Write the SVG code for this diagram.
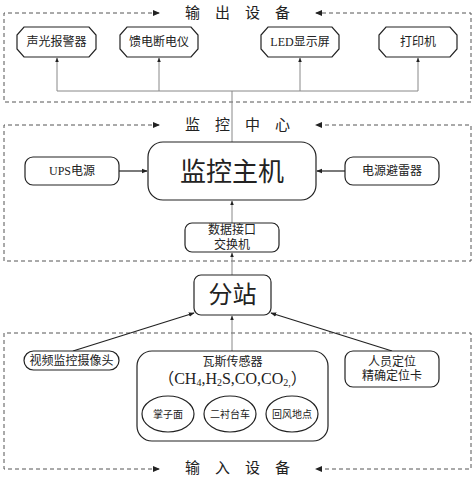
<svg xmlns="http://www.w3.org/2000/svg" width="474" height="479" viewBox="0 0 474 479">
<style>
text{font-family:"Liberation Serif","Noto Sans CJK SC",serif;fill:#222;text-anchor:middle;dominant-baseline:central}
.box{fill:#fff;stroke:#222;stroke-width:1.2}
.dash{fill:none;stroke:#555;stroke-width:1;stroke-dasharray:4 3}
.ttl{font-size:15px}
.s{font-size:12px}
.xs{font-size:10px}
.gl{stroke:#888;stroke-width:1;fill:none}
.bl{stroke:#222;stroke-width:1.2;fill:none}
</style>
<defs>
<marker id="ah" viewBox="0 0 8 8" refX="7" refY="4" markerWidth="6" markerHeight="6" orient="auto" markerUnits="userSpaceOnUse">
<path d="M0,1 L8,4 L0,7 z" fill="#222"/>
</marker>
<marker id="ahs" viewBox="0 0 8 8" refX="7" refY="4" markerWidth="5" markerHeight="5" orient="auto" markerUnits="userSpaceOnUse">
<path d="M0,1 L8,4 L0,7 z" fill="#222"/>
</marker>
</defs>
<rect width="474" height="479" fill="#fff"/>

<g id="frames">
<path class="dash" d="M159,13 L4,13 L4,102 L471,102 L471,13 L316,13"/>
<path class="dash" d="M159,125 L4,125 L4,261 L471,261 L471,125 L316,125"/>
<path class="dash" d="M159,469 L4,469 L4,333 L471,333 L471,469 L316,469"/>
<path d="M153,10 L160,13 L153,16 z M322,10 L315,13 L322,16 z" fill="#222"/>
<path d="M153,122 L160,125 L153,128 z M322,122 L315,125 L322,128 z" fill="#222"/>
<path d="M153,466 L160,469 L153,472 z M322,466 L315,469 L322,472 z" fill="#222"/>
<g class="ttl">
<text x="192.5" y="13">输</text><text x="222.5" y="13">出</text><text x="252.5" y="13">设</text><text x="282.5" y="13">备</text>
<text x="192.5" y="125">监</text><text x="222.5" y="125">控</text><text x="252.5" y="125">中</text><text x="282.5" y="125">心</text>
<text x="192.5" y="468">输</text><text x="222.5" y="468">入</text><text x="252.5" y="468">设</text><text x="282.5" y="468">备</text>
</g>
</g>

<g id="connectors">
<path class="gl" d="M57,91 L418,91"/>
<path class="gl" d="M57,91 L57,58" marker-end="url(#ahs)"/>
<path class="gl" d="M159,91 L159,58" marker-end="url(#ahs)"/>
<path class="gl" d="M300,91 L300,58" marker-end="url(#ahs)"/>
<path class="gl" d="M418,91 L418,58" marker-end="url(#ahs)"/>
<path class="gl" d="M232,91 L232,142"/>
<path class="bl" d="M119,171 L147,171" marker-end="url(#ah)"/>
<path class="bl" d="M345,171 L317,171" marker-end="url(#ah)"/>
<path class="gl" d="M232,223 L232,201" marker-end="url(#ahs)"/>
<path class="gl" d="M232,275 L232,253" marker-end="url(#ahs)"/>
<path class="bl" d="M73,351 L194,313" marker-end="url(#ah)"/>
<path class="bl" d="M392,351 L271,313" marker-end="url(#ah)"/>
<path class="gl" d="M232,351 L232,316" marker-end="url(#ahs)"/>
</g>

<g id="n-alarm"><path class="box" d="M24,27 L89,27 L96,35 L96,49 L89,57 L24,57 L17,49 L17,35 z"/><text class="s" x="56.5" y="42">声光报警器</text></g>
<g id="n-feed"><path class="box" d="M127,27 L191,27 L198,35 L198,49 L191,57 L127,57 L120,49 L120,35 z"/><text class="s" x="159" y="42">馈电断电仪</text></g>
<g id="n-led"><path class="box" d="M268,27 L332,27 L339,35 L339,49 L332,57 L268,57 L261,49 L261,35 z"/><text class="s" x="300" y="42">LED显示屏</text></g>
<g id="n-print"><path class="box" d="M386,27 L450,27 L457,35 L457,49 L450,57 L386,57 L379,49 L379,35 z"/><text class="s" x="418" y="42">打印机</text></g>

<g id="n-host"><rect class="box" x="148" y="142" width="168" height="58" rx="15"/><text x="232" y="172" style="font-size:26px">监控主机</text></g>
<g id="n-ups"><rect class="box" x="25" y="157" width="94" height="28" rx="8"/><text class="s" x="72" y="171">UPS电源</text></g>
<g id="n-surge"><rect class="box" x="345" y="157" width="94" height="28" rx="8"/><text class="s" x="392" y="171">电源避雷器</text></g>
<g id="n-switch"><rect class="box" x="185" y="223" width="94" height="29" rx="7"/><text class="s" x="232" y="230">数据接口</text><text class="s" x="232" y="245">交换机</text></g>

<g id="n-sub"><rect class="box" x="194" y="275" width="77" height="40" rx="7"/><text x="232.5" y="295" style="font-size:24px">分站</text></g>

<g id="n-video"><rect class="box" x="24" y="351" width="95" height="19" rx="9.5"/><text class="s" x="71.5" y="361">视频监控摄像头</text></g>
<g id="n-gas"><rect class="box" x="137" y="351" width="191" height="90" rx="15"/>
<text class="s" x="232.5" y="362">瓦斯传感器</text>
<text x="232.5" y="378" style="font-size:16px">（CH<tspan font-size="10" dy="4">4</tspan><tspan dy="-4">,H</tspan><tspan font-size="10" dy="4">2</tspan><tspan dy="-4">S,CO,CO</tspan><tspan font-size="10" dy="4">2,</tspan><tspan dy="-4">）</tspan></text>
<ellipse class="box" cx="168" cy="414" rx="26" ry="18"/><text class="xs" x="168" y="414">掌子面</text>
<ellipse class="box" cx="230" cy="414" rx="26" ry="18"/><text class="xs" x="230" y="414">二衬台车</text>
<ellipse class="box" cx="292" cy="414" rx="26" ry="18"/><text class="xs" x="292" y="414">回风地点</text>
</g>
<g id="n-person"><rect class="box" x="345" y="351" width="94" height="36" rx="8"/><text class="s" x="392" y="362">人员定位</text><text class="s" x="392" y="376">精确定位卡</text></g>
</svg>
